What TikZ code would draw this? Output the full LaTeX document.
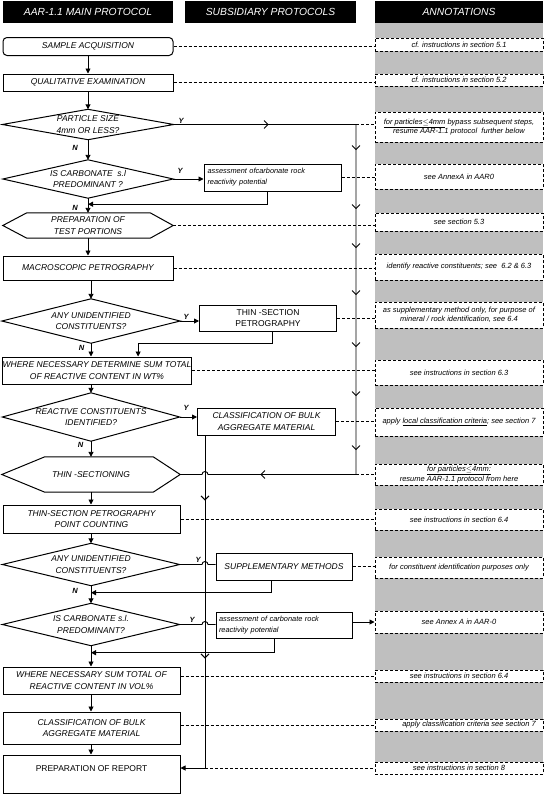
\documentclass[tikz,border=0pt]{standalone}
\usepackage{fontspec}
\setmainfont{Liberation Sans}
\usetikzlibrary{arrows.meta,calc,decorations.markings}

\tikzset{
  openhead/.tip={Straight Barb[length=4pt,width=8pt,line width=0.9pt]},
  headbox/.style={fill=black, text=white, inner sep=0pt, minimum height=22pt,
    font=\fontsize{10.3}{12}\selectfont\itshape},
  procbox/.style={draw, line width=1pt, fill=white, inner sep=0pt, align=center,
    font=\fontsize{8.5}{11.5}\selectfont\itshape},
  smallbox/.style={procbox, align=left, text width=130pt,
    font=\fontsize{7.4}{11}\selectfont\itshape},
  decide/.style={inner sep=0pt, align=center,
    font=\fontsize{8.5}{11.5}\selectfont\itshape},
  frame/.style={line width=1pt},
  notebox/.style={draw, dashed, dash pattern=on 3pt off 2pt, line width=1pt,
    fill=white, inner sep=0pt, minimum width=168pt, align=center,
    font=\fontsize{7.5}{9.5}\selectfont\itshape},
  flow/.style={line width=0.9pt, -{Triangle[length=5pt,width=5pt]}},
  line/.style={line width=0.9pt},
  link/.style={line width=0.8pt, dash pattern=on 3pt off 2pt},
  yn/.style={inner sep=0pt, font=\fontsize{7.5}{7.5}\selectfont\bfseries\itshape}
}

\begin{document}
\begin{tikzpicture}[x=1pt,y=-1pt]

  \newcommand\decideframe[1]{\draw[frame] (#1.west) -- (#1.north) -- (#1.east) -- (#1.south) -- cycle;}
  \newcommand\hexframe[3]{\draw[frame] (#1.west) -- ([xshift=#2]#1.north west)
    -- ([xshift=-#3]#1.north east) -- (#1.east) -- ([xshift=-#3]#1.south east)
    -- ([xshift=#2]#1.south west) -- cycle;}

  \useasboundingbox (0,0) rectangle (545,795);

  %% column heads
  \node[headbox, minimum width=170pt] (headmain) at (88,12) {AAR-1.1 MAIN PROTOCOL};
  \node[headbox, minimum width=171pt] (headsub) at (270.5,12) {SUBSIDIARY PROTOCOLS};
  \node[headbox, minimum width=168pt] (headnote) at (459,12) {ANNOTATIONS};
  \fill[gray!50] (375,23) rectangle (543,762);

  %% main protocol
  \node[procbox, rounded corners=4pt, minimum width=170pt, minimum height=18pt]
  (sample) at (88,46.5) {SAMPLE ACQUISITION};
  \node[procbox, minimum width=170pt, minimum height=17pt]
  (qual) at (88,82.5) {QUALITATIVE EXAMINATION};
  \node[decide, minimum width=171pt, minimum height=30pt]
  (size) at (88,124.5) {PARTICLE SIZE\\4mm OR LESS?};
  \decideframe{size}
  \node[decide, minimum width=170pt, minimum height=38pt]
  (carb1) at (88,179) {IS CARBONATE \ s.l\\PREDOMINANT ?};
  \decideframe{carb1}
  \node[decide, minimum width=170pt, minimum height=25pt]
  (prep) at (88,225.5) {PREPARATION OF\\TEST PORTIONS};
  \hexframe{prep}{24pt}{23pt}
  \node[procbox, minimum width=170pt, minimum height=24pt]
  (macro) at (88,268) {MACROSCOPIC PETROGRAPHY};
  \node[decide, minimum width=178pt, minimum height=44pt]
  (uc1) at (91,321) {ANY UNIDENTIFIED\\CONSTITUENTS?};
  \decideframe{uc1}
  \node[procbox, minimum width=188pt, minimum height=27pt]
  (wt) at (97,370.5) {WHERE NECESSARY DETERMINE SUM TOTAL\\OF REACTIVE CONTENT IN WT\%};
  \node[decide, minimum width=177pt, minimum height=48pt]
  (rc) at (91,417) {REACTIVE CONSTITUENTS\\IDENTIFIED?};
  \decideframe{rc}
  \node[decide, minimum width=178pt, minimum height=35pt]
  (ts) at (91,474.5) {THIN -SECTIONING};
  \hexframe{ts}{43pt}{27pt}
  \node[procbox, minimum width=177pt, minimum height=28pt]
  (pc) at (91.5,519) {THIN-SECTION PETROGRAPHY\\POINT COUNTING};
  \node[decide, minimum width=177pt, minimum height=42pt]
  (uc2) at (91,564.5) {ANY UNIDENTIFIED\\CONSTITUENTS?};
  \decideframe{uc2}
  \node[decide, minimum width=177pt, minimum height=42pt]
  (carb2) at (91,624.5) {IS CARBONATE s.l.\\PREDOMINANT?};
  \decideframe{carb2}
  \node[procbox, minimum width=177pt, minimum height=27pt]
  (vol) at (91.5,680.5) {WHERE NECESSARY SUM TOTAL OF\\REACTIVE CONTENT IN VOL\%};
  \node[procbox, minimum width=177pt, minimum height=32pt]
  (cls) at (91.5,728) {CLASSIFICATION OF BULK\\AGGREGATE MATERIAL};
  \node[procbox, font=\fontsize{8.5}{11.5}\selectfont, minimum width=177pt,
  inner ysep=4pt, text height=12pt, text depth=18pt]
  (rep) at (91.5,774) {PREPARATION OF REPORT};

  %% subsidiary protocols
  \node[smallbox, minimum width=137pt, minimum height=27pt]
  (ass1) at (272.5,177.5) {assessment ofcarbonate rock\\reactivity potential};
  \node[procbox, font=\fontsize{8.5}{11.5}\selectfont, minimum width=137pt, minimum height=26pt]
  (tsp) at (268,318) {THIN -SECTION\\PETROGRAPHY};
  \node[procbox, minimum width=138pt, minimum height=27pt]
  (cb) at (266.5,421.5) {CLASSIFICATION OF BULK\\AGGREGATE MATERIAL};
  \node[procbox, minimum width=136pt, minimum height=27pt]
  (sup) at (284,566.5) {SUPPLEMENTARY METHODS};
  \node[smallbox, minimum width=136pt, minimum height=26pt]
  (ass2) at (284,625) {assessment of carbonate rock\\reactivity potential};

  %% annotations
  \node[notebox, minimum height=13pt] (note1) at (459,44.5) {cf. instructions in section 5.1};
  \node[notebox, minimum height=12pt] (note2) at (459,80) {cf. instructions in section 5.2};
  \node[notebox, minimum height=30pt] (note3) at (459,127)
  {\underline{for particles$\le$4mm} bypass subsequent steps,\\resume AAR-1.1 protocol \ further below};
  \node[notebox, minimum height=25pt] (note4) at (459,176.5) {see AnnexA in AAR0};
  \node[notebox, minimum height=18pt] (note5) at (459,222) {see section 5.3};
  \node[notebox, minimum height=26pt] (note6) at (459,267)
  {identify reactive constituents; see \ 6.2 \& 6.3};
  \node[notebox, minimum height=26pt] (note7) at (459,315)
  {as supplementary method only, for purpose of\\mineral / rock identification, see 6.4};
  \node[notebox, minimum height=25pt] (note8) at (459,372.5) {see instructions in section 6.3};
  \node[notebox, minimum height=28pt] (note9) at (459,422)
  {apply \underline{local classification criteria}; see section 7};
  \node[notebox, minimum height=21pt] (note10) at (459,474.5)
  {\underline{for particles$\le$4mm:}\\resume AAR-1.1 protocol from here};
  \node[notebox, minimum height=21pt] (note11) at (459,519.5) {see instructions in section 6.4};
  \node[notebox, minimum height=21pt] (note12) at (459,567.5)
  {for constituent identification purposes only};
  \node[notebox, minimum height=22pt] (note13) at (459,622) {see Annex A in AAR-0};
  \node[notebox, minimum height=12pt] (note14) at (459,676) {see instructions in section 6.4};
  \node[notebox, minimum height=12pt] (note15) at (459,725)
  {\hspace*{20pt}apply classification criteria see section 7};
  \node[notebox, minimum height=12pt] (note16) at (459,768) {see instructions in section 8};

  %% main flow
  \draw[flow] (sample.south) -- (qual.north);
  \draw[flow] (qual.south) -- (size.north);
  \draw[flow] (size.south) -- (carb1.north);
  \draw[flow] (carb1.south) -- (prep.north);
  \draw[flow] (prep.south) -- (macro.north);
  \draw[flow] (uc1.north |- macro.south) -- (uc1.north);
  \draw[flow] (uc1.south) -- (uc1.south |- wt.north);
  \draw[flow] (rc.north |- wt.south) -- (rc.north);
  \draw[flow] (rc.south) -- (ts.north);
  \draw[flow] (ts.south) -- (ts.south |- pc.north);
  \draw[flow] (ts.south |- pc.south) -- (uc2.north);
  \draw[flow] (uc2.south) -- (carb2.north);
  \draw[flow] (carb2.south) -- (carb2.south |- vol.north);
  \draw[flow] (carb2.south |- vol.south) -- (carb2.south |- cls.north);
  \draw[flow] (carb2.south |- cls.south) -- (carb2.south |- rep.north);

  %% bypass for small particles
  \coordinate (byp1) at (356,124.5);
  \coordinate (byp2) at (356,474.5);
  \coordinate (cbout) at ([xshift=8pt]cb.south west);
  \coordinate (repin) at (cbout |- note16.west);
  \draw[line, postaction={decorate}, decoration={markings,
    mark=at position 95pt with {\arrow{openhead}},
    mark=at position 208pt with {\arrow{openhead}},
    mark=at position 267pt with {\arrow{openhead}},
    mark=at position 306pt with {\arrow{openhead}},
    mark=at position 353pt with {\arrow{openhead}},
    mark=at position 405pt with {\arrow{openhead}},
    mark=at position 454pt with {\arrow{openhead}},
    mark=at position 508pt with {\arrow{openhead}},
    mark=at position 628pt with {\arrow{openhead}}}]
  (size.east) -- (byp1) -- (byp2)
  -- ($(byp2 -| cbout)+(3,0)$) arc[start angle=0,end angle=180,radius=3pt] -- (ts.east);

  %% classification straight to report
  \draw[line, postaction={decorate}, decoration={markings,
    mark=at position 65pt with {\arrow{openhead}},
    mark=at position 223pt with {\arrow{openhead}}}]
  (cbout) -- (repin);
  \draw[flow] (repin) -- (repin -| rep.east);

  %% yes branches
  \draw[flow] (carb1.east) -- (carb1.east -| ass1.west);
  \draw[flow] (uc1.east) -- (uc1.east -| tsp.west);
  \draw[flow] (rc.east) -- (rc.east -| cb.west);
  \draw[line] (uc2.east) -- ($(uc2.east -| cbout)+(-3,0)$)
  arc[start angle=180,end angle=0,radius=3pt] -- (uc2.east -| sup.west);
  \draw[line] (carb2.east) -- ($(carb2.east -| cbout)+(-3,0)$)
  arc[start angle=180,end angle=0,radius=3pt] -- (carb2.east -| ass2.west);

  %% returns
  \draw[flow] ($(ass1.south)+(-5,0)$) |- ($(carb1.south)+(0,6)$);
  \draw[flow] ($(tsp.south)+(4,0)$) -- ++(0,12) -| ($(wt.north west)+(136,0)$);
  \draw[flow] ($(sup.south)+(-13,0)$) |- ($(uc2.south)+(0,7)$);
  \draw[flow] ($(ass2.south)+(-10,0)$) |- ($(carb2.south)+(0,7)$);

  %% links to annotations
  \draw[link] (sample.east) -- (sample.east -| note1.west);
  \draw[link] (qual.east) -- (qual.east -| note2.west);
  \draw[link] (byp1) -- (byp1 -| note3.west);
  \draw[link] (ass1.east) -- (ass1.east -| note4.west);
  \draw[link] (prep.east) -- (prep.east -| note5.west);
  \draw[link] (macro.east) -- (macro.east -| note6.west);
  \draw[link] (tsp.east) -- (tsp.east -| note7.west);
  \draw[link] (wt.east) -- (wt.east -| note8.west);
  \draw[link] (cb.east) -- (cb.east -| note9.west);
  \draw[link] (byp2) -- (byp2 -| note10.west);
  \draw[link] (pc.east) -- (pc.east -| note11.west);
  \draw[link] (sup.east) -- (sup.east -| note12.west);
  \draw[flow] (note13.west -| ass2.east) -- (note13.west);
  \draw[link] (note14.west -| vol.east) -- (note14.west);
  \draw[link] (note15.west -| cls.east) -- (note15.west);
  \draw[link] (repin) -- (repin -| note16.west);

  %% Y / N labels
  \node[yn] (ysize) at (181,121) {Y};
  \node[yn] (nsize) at (75,148) {N};
  \node[yn] (ycarb1) at (180,171) {Y};
  \node[yn] (ncarb1) at (75,208) {N};
  \node[yn] (yuc1) at (186,317) {Y};
  \node[yn] (nuc1) at (81.5,348) {N};
  \node[yn] (yrc) at (186,408) {Y};
  \node[yn] (nrc) at (80.5,445) {N};
  \node[yn] (yuc2) at (198,560) {Y};
  \node[yn] (nuc2) at (75,591) {N};
  \node[yn] (ycarb2) at (192,620) {Y};

\end{tikzpicture}
\end{document}
